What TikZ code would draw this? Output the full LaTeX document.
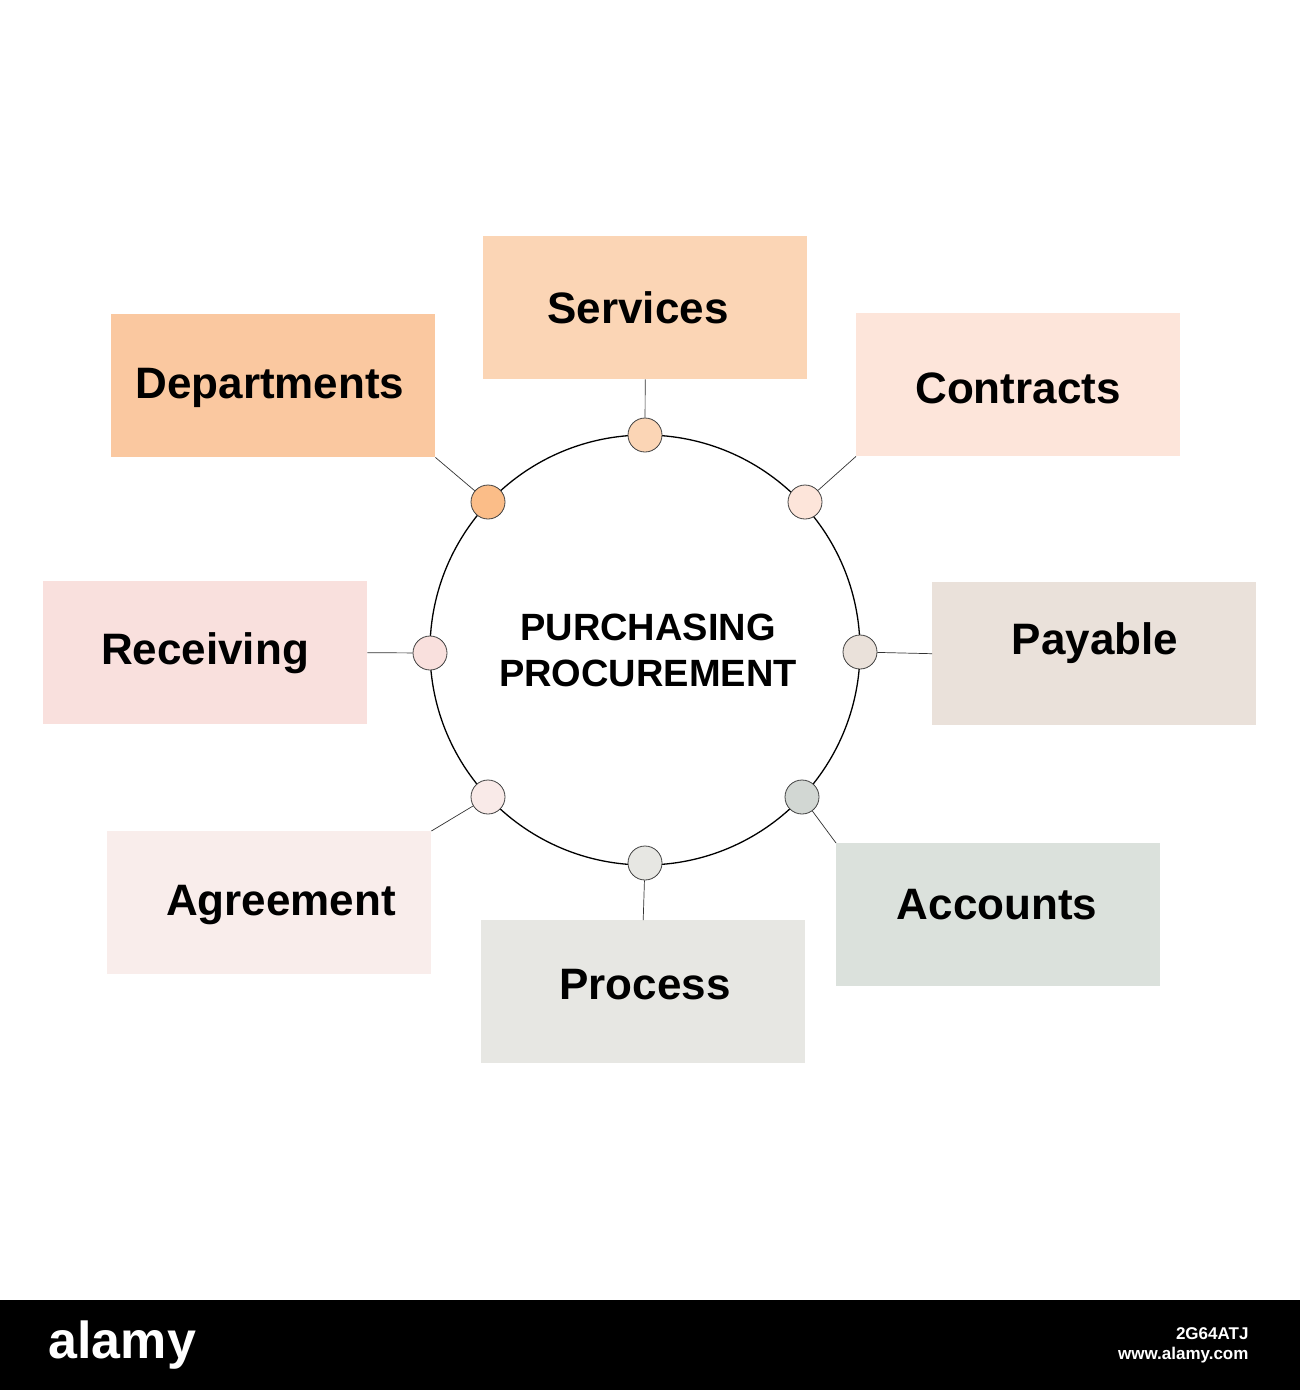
\documentclass[tikz,border=0pt]{standalone}
\usepackage{fontspec}
\setmainfont{Liberation Sans}
\begin{document}
\begin{tikzpicture}[x=1pt,y=-1pt,
  box/.style={minimum width=324pt,minimum height=143pt,inner sep=0pt,anchor=north west},
  lbl/.style={font=\fontsize{44}{50}\selectfont\bfseries},
  dot/.style={circle,draw=black!75,line width=0.8pt,minimum size=34pt,inner sep=0pt},
  con/.style={draw=black!80,line width=0.7pt}]
\useasboundingbox (0,0) rectangle (1300,1390);
\fill[white] (0,0) rectangle (1300,1390);
\definecolor{cS}{HTML}{FBD5B5}\definecolor{cD}{HTML}{FAC8A0}
\definecolor{cC}{HTML}{FDE5DA}\definecolor{cR}{HTML}{F9E0DD}
\definecolor{cP}{HTML}{EAE1DA}\definecolor{cA}{HTML}{F9EDEB}
\definecolor{cQ}{HTML}{E7E7E3}\definecolor{cT}{HTML}{DBE1DC}
% boxes
\node[box,fill=cS] (serv) at (483,236) {};
\node[box,fill=cD] (dept) at (111,314) {};
\node[box,fill=cC] (cont) at (856,313) {};
\node[box,fill=cR] (recv) at (43,581) {};
\node[box,fill=cP] (paya) at (932,582) {};
\node[box,fill=cA] (agre) at (107,831) {};
\node[box,fill=cQ] (proc) at (481,920) {};
\node[box,fill=cT] (acco) at (836,843) {};
\node[lbl] (tS) at (638,308) {Services};
\node[lbl] (tD) at (270,388) {Departments};
\node[lbl] (tC) at (1018,388) {Contracts};
\node[lbl] (tR) at (205,653) {Receiving};
\node[lbl] (tP) at (1095,643) {Payable};
\node[lbl] (tA) at (281,905) {Agreement};
\node[lbl] (tQ) at (645,985) {Process};
\node[lbl] (tT) at (997,905) {Accounts};
% inner ring
\foreach \a/\c in {90/cS,135/cD,180/cR,225/cA,270/cQ,315/cT,0/cP,45/cC}{
  \draw[line width=14pt,\c!80!white] (645,650) ++(\a-22:175) arc[start angle=\a-22,end angle=-(\a+22)+2*\a+22-22-22+22,radius=175];
}
% outer ring
\coordinate (ctr) at (645,650);
\draw[line width=1.3pt] (ctr) circle[radius=215];
% connectors
\node[dot,fill=cS] (dS) at (645,435) {};
\node[dot,fill=cD!85!orange] (dD) at (488,502) {};
\node[dot,fill=cC] (dC) at (805,502) {};
\node[dot,fill=cR] (dR) at (430,653) {};
\node[dot,fill=cP] (dP) at (860,652) {};
\node[dot,fill=cA!80!cR] (dA) at (488,797) {};
\node[dot,fill=cQ] (dQ) at (645,863) {};
\node[dot,fill=cT!90!gray] (dT) at (802,797) {};
\draw[con] (serv.south) -- (dS);
\draw[con] (dept.south east) -- (dD);
\draw[con] (cont.south west) -- (dC);
\draw[con] (recv.east) -- (dR);
\draw[con] (paya.west) -- (dP);
\draw[con] (agre.north east) -- (dA);
\draw[con] (proc.north) -- (dQ);
\draw[con] (acco.north west) -- (dT);
\node[font=\fontsize{38}{46}\selectfont\bfseries,align=center] (ttl) at (648,650) {PURCHASING\\PROCUREMENT};
% bottom bar
\fill[black] (0,1300) rectangle (1300,1390);
\node[white,font=\fontsize{52}{56}\selectfont\bfseries,anchor=west] (al) at (45,1345) {alamy};
\node[white,font=\fontsize{17}{20}\selectfont\bfseries,anchor=east,align=right] (id) at (1252,1345) {2G64ATJ\\www.alamy.com};
\end{tikzpicture}
\end{document}
